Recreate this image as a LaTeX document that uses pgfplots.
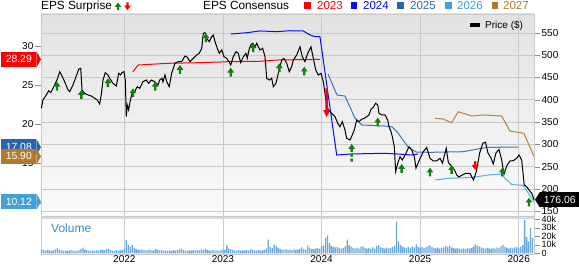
\documentclass[border=0pt]{standalone}
\usepackage{fontspec}
\setmainfont{Liberation Sans}
\usepackage{pgfplots}
\pgfplotsset{compat=1.18}

\definecolor{gridc}{RGB}{202,202,202}
\definecolor{tickc}{RGB}{140,140,140}
\definecolor{bgtop}{RGB}{226,226,226}
\definecolor{bgbot}{RGB}{251,251,251}
\definecolor{c2023}{RGB}{255,0,0}
\definecolor{c2024}{RGB}{10,10,245}
\definecolor{c2025}{RGB}{42,100,176}
\definecolor{c2026}{RGB}{64,160,216}
\definecolor{c2027}{RGB}{176,122,46}
\definecolor{l2025}{RGB}{58,120,192}
\definecolor{l2026}{RGB}{86,176,226}
\definecolor{l2027}{RGB}{184,130,58}
\definecolor{upgreen}{RGB}{16,128,16}
\definecolor{volc}{RGB}{104,166,222}
\definecolor{voltxt}{RGB}{60,140,205}

\newcommand\tickfont{\fontsize{10}{12}\selectfont}

% EPS surprise arrows; the tip sits at the plotted point
\pgfdeclareplotmark{epsup}{%
  \pgfpathmoveto{\pgfpoint{0pt}{0pt}}%
  \pgfpathlineto{\pgfpoint{3.4pt}{-4.8pt}}%
  \pgfpathlineto{\pgfpoint{1.2pt}{-4.8pt}}%
  \pgfpathlineto{\pgfpoint{1.2pt}{-8.8pt}}%
  \pgfpathlineto{\pgfpoint{-1.2pt}{-8.8pt}}%
  \pgfpathlineto{\pgfpoint{-1.2pt}{-4.8pt}}%
  \pgfpathlineto{\pgfpoint{-3.4pt}{-4.8pt}}%
  \pgfpathclose\pgfusepathqfill}
\pgfdeclareplotmark{epsuplong}{%
  \pgfpathmoveto{\pgfpoint{0pt}{0pt}}%
  \pgfpathlineto{\pgfpoint{3.4pt}{-4.8pt}}%
  \pgfpathlineto{\pgfpoint{-3.4pt}{-4.8pt}}%
  \pgfpathclose
  \pgfpathrectangle{\pgfpoint{-1.2pt}{-8pt}}{\pgfpoint{2.4pt}{3.2pt}}%
  \pgfpathrectangle{\pgfpoint{-1.2pt}{-12.6pt}}{\pgfpoint{2.4pt}{3pt}}%
  \pgfpathrectangle{\pgfpoint{-1.2pt}{-17.6pt}}{\pgfpoint{2.4pt}{3pt}}%
  \pgfusepathqfill}
\pgfdeclareplotmark{epsdown}{%
  \pgfpathmoveto{\pgfpoint{0pt}{0pt}}%
  \pgfpathlineto{\pgfpoint{3.4pt}{4.8pt}}%
  \pgfpathlineto{\pgfpoint{1.2pt}{4.8pt}}%
  \pgfpathlineto{\pgfpoint{1.2pt}{8.8pt}}%
  \pgfpathlineto{\pgfpoint{-1.2pt}{8.8pt}}%
  \pgfpathlineto{\pgfpoint{-1.2pt}{4.8pt}}%
  \pgfpathlineto{\pgfpoint{-3.4pt}{4.8pt}}%
  \pgfpathclose\pgfusepathqfill}
\pgfdeclareplotmark{epsdownlong}{%
  \pgfpathmoveto{\pgfpoint{0pt}{0pt}}%
  \pgfpathlineto{\pgfpoint{3.4pt}{7.2pt}}%
  \pgfpathlineto{\pgfpoint{1.2pt}{7.2pt}}%
  \pgfpathlineto{\pgfpoint{1.2pt}{29pt}}%
  \pgfpathlineto{\pgfpoint{-1.2pt}{29pt}}%
  \pgfpathlineto{\pgfpoint{-1.2pt}{7.2pt}}%
  \pgfpathlineto{\pgfpoint{-3.4pt}{7.2pt}}%
  \pgfpathclose\pgfusepathqfill}

\pgfplotsset{
  panel/.style={scale only axis, width=493pt, xmin=2021.155, xmax=2026.155,
    anchor=south west},
  pricebox/.style={panel, at={(41pt,47.5pt)}, height=202.5pt, ymin=138.3, ymax=592.6},
  epsbox/.style={panel, at={(41pt,47.5pt)}, height=202.5pt, ymin=8.226, ymax=34.087},
}
\tikzset{
  tag/.style={text=white, inner sep=0pt, minimum width=35pt, minimum height=15.5pt,
    font=\fontsize{10.4}{12}\selectfont},
}

\begin{document}
\begin{tikzpicture}
\path[use as bounding box] (0pt,0pt) rectangle (579pt,264pt);

% price panel: shaded background, grid, price scale on the right
\begin{axis}[pricebox,
  axis background/.style={top color=bgtop, bottom color=bgbot},
  axis line style={draw=gridc},
  xtick={2022,2023,2024,2025,2026}, xticklabels={}, xmajorgrids,
  xtick style={draw=none},
  ytick={150,200,...,550}, ymajorgrids,
  ytick pos=right, yticklabel pos=right,
  tick align=outside, major tick length=6pt,
  ytick style={draw=tickc},
  grid style={draw=gridc, line width=0.8pt},
  yticklabel style={font=\tickfont, /pgf/number format/assume math mode=true,
    inner sep=1.5pt},
]
\addplot[draw=none] coordinates {(2022,300)};
\end{axis}

% EPS consensus per fiscal year, EPS scale on the left
\begin{axis}[epsbox,
  axis x line=none, axis y line*=left, axis line style={draw=none},
  ytick={10,15,20,25,30},
  tick align=outside, major tick length=6pt,
  ytick style={draw=tickc},
  yticklabel style={font=\tickfont, /pgf/number format/assume math mode=true,
    inner sep=1.5pt},
]
\addplot[c2023, line width=1pt] coordinates {
(2022.088,26.72) (2022.139,27.57) (2022.443,27.79) (2022.767,27.87)
(2023.041,27.99) (2023.376,28.05) (2023.545,28.21) (2023.984,28.29)};
\addplot[c2024, line width=1pt] coordinates {
(2023.082,31.53) (2023.244,31.70) (2023.376,31.92) (2023.545,31.83)
(2023.680,31.95) (2023.815,31.92) (2023.883,31.41) (2023.934,31.19)
(2023.984,31.19) (2024.154,16.08) (2024.306,16.21) (2024.644,16.30)
(2024.762,16.21) (2024.915,16.08) (2024.981,16.21)};
\addplot[l2025, line width=1pt] coordinates {
(2024.066,26.42) (2024.157,23.74) (2024.238,23.61) (2024.339,20.80)
(2024.410,19.91) (2024.644,19.78) (2024.715,19.66) (2024.776,18.89)
(2024.877,17.10) (2024.958,16.46) (2025.100,16.42) (2025.435,16.50)
(2025.678,17.06) (2025.993,17.08)};
\addplot[l2026, line width=1pt] coordinates {
(2025.151,12.89) (2025.286,13.10) (2025.523,13.21) (2025.691,13.52)
(2025.827,13.65) (2025.861,13.10) (2025.929,12.31) (2026.046,12.19)
(2026.132,10.55) (2026.155,10.12)};
\addplot[l2027, line width=1pt] coordinates {
(2025.151,20.77) (2025.235,20.68) (2025.320,20.20) (2025.387,21.61)
(2025.523,21.06) (2025.641,21.19) (2025.827,21.06) (2025.911,19.14)
(2026.053,18.85) (2026.148,16.08) (2026.155,15.90)};
\end{axis}

% share price and EPS surprises
\begin{axis}[pricebox, hide axis, clip=false]
\addplot[black, line width=1pt] coordinates {
(2021.158,381.1) (2021.175,399.7) (2021.209,410.9) (2021.233,420.5)
(2021.253,416.1) (2021.277,425.9) (2021.300,437.1) (2021.320,446.1)
(2021.345,463.2) (2021.368,453.5) (2021.395,440.7) (2021.429,422.1)
(2021.446,418.3) (2021.479,433.3) (2021.513,453.5) (2021.537,468.5)
(2021.558,470.8) (2021.571,422.1) (2021.598,414.7) (2021.632,410.9)
(2021.665,408.7) (2021.699,403.5) (2021.726,399.7) (2021.750,390.7)
(2021.766,410.9) (2021.784,444.5) (2021.807,460.9) (2021.834,455.8)
(2021.862,444.5) (2021.885,437.1) (2021.919,431.1) (2021.943,459.6)
(2021.963,455.8) (2021.976,460.9) (2021.997,463.2) (2022.010,444.5)
(2022.020,362.2) (2022.030,388.5) (2022.044,377.2) (2022.058,395.9)
(2022.078,414.7) (2022.105,418.3) (2022.131,429.5) (2022.156,425.9)
(2022.189,440.7) (2022.223,444.5) (2022.247,437.1) (2022.274,444.5)
(2022.308,440.7) (2022.341,433.3) (2022.359,444.5) (2022.382,448.4)
(2022.392,440.1) (2022.412,455.8) (2022.430,440.7) (2022.456,429.5)
(2022.480,459.6) (2022.514,482.0) (2022.547,485.6) (2022.582,485.6)
(2022.615,498.4) (2022.639,495.5) (2022.666,485.6) (2022.699,493.2)
(2022.734,500.6) (2022.760,504.4) (2022.785,515.7) (2022.801,549.3)
(2022.818,550.6) (2022.835,538.1) (2022.862,530.5) (2022.886,541.7)
(2022.902,545.5) (2022.920,530.5) (2022.943,515.7) (2022.963,504.4)
(2022.988,511.8) (2023.011,496.8) (2023.038,493.2) (2023.062,485.6)
(2023.079,478.2) (2023.105,496.8) (2023.133,508.0) (2023.156,504.4)
(2023.180,483.4) (2023.207,496.8) (2023.234,504.4) (2023.247,493.2)
(2023.264,511.8) (2023.282,523.1) (2023.302,526.9) (2023.325,519.2)
(2023.343,526.9) (2023.359,519.2) (2023.376,511.8) (2023.403,515.7)
(2023.427,496.8) (2023.444,448.4) (2023.470,444.5) (2023.495,448.4)
(2023.511,429.5) (2023.538,437.1) (2023.562,459.6) (2023.596,489.4)
(2023.619,493.2) (2023.647,482.0) (2023.673,463.2) (2023.697,474.4)
(2023.714,489.4) (2023.748,500.6) (2023.782,519.2) (2023.805,496.8)
(2023.832,485.6) (2023.860,504.4) (2023.893,519.2) (2023.917,493.2)
(2023.941,467.0) (2023.967,455.8) (2023.995,459.6) (2024.018,440.7)
(2024.035,414.7) (2024.052,388.5) (2024.069,377.2) (2024.103,369.8)
(2024.137,362.2) (2024.164,347.4) (2024.187,339.8) (2024.211,351.0)
(2024.238,332.4) (2024.255,313.8) (2024.289,310.0) (2024.312,321.2)
(2024.332,332.4) (2024.357,354.8) (2024.380,351.0) (2024.407,356.4)
(2024.434,358.6) (2024.458,362.2) (2024.481,366.0) (2024.502,378.8)
(2024.525,383.3) (2024.549,392.3) (2024.570,388.5) (2024.583,369.8)
(2024.610,366.0) (2024.644,366.0) (2024.671,354.8) (2024.684,339.8)
(2024.705,328.6) (2024.718,317.4) (2024.738,294.9) (2024.752,238.8)
(2024.773,257.7) (2024.796,272.5) (2024.819,265.1) (2024.839,272.5)
(2024.864,283.7) (2024.887,294.9) (2024.915,287.5) (2024.941,272.5)
(2024.958,246.5) (2024.992,265.1) (2025.032,283.7) (2025.067,293.1)
(2025.100,268.9) (2025.134,262.8) (2025.166,262.8) (2025.202,268.9)
(2025.227,257.7) (2025.265,291.3) (2025.286,259.5) (2025.318,251.6)
(2025.349,242.7) (2025.371,231.4) (2025.394,227.0) (2025.428,231.4)
(2025.462,235.2) (2025.506,235.2) (2025.541,220.2) (2025.572,240.4)
(2025.604,280.8) (2025.636,302.5) (2025.663,305.0) (2025.688,280.8)
(2025.719,269.6) (2025.742,256.1) (2025.769,280.8) (2025.800,288.6)
(2025.827,265.1) (2025.851,233.7) (2025.878,251.6) (2025.911,262.8)
(2025.945,263.5) (2025.979,268.9) (2026.003,276.3) (2026.030,265.1)
(2026.056,209.0) (2026.081,205.2) (2026.104,197.8) (2026.132,190.4)
(2026.155,176.06)};
\addplot[only marks, mark=epsup, upgreen] coordinates {
(2021.317,440.7) (2021.564,422.1) (2021.834,448.4) (2022.088,425.9)
(2022.314,440.7) (2022.565,478.2) (2022.828,549.3) (2023.079,472.1)
(2023.308,526.9) (2023.572,482.0) (2023.825,474.4) (2024.570,360.0)
(2024.813,256.1) (2025.100,247.8) (2025.320,253.9) (2025.833,247.8)
(2026.104,180.5)};
\addplot[only marks, mark=epsuplong, upgreen] coordinates {(2024.306,301.0)};
\addplot[only marks, mark=epsdownlong, c2023] coordinates {(2024.052,360.9)};
\addplot[only marks, mark=epsdown, c2023] coordinates {(2025.559,242.7)};
% last price
\node[tag, fill=black, anchor=west, minimum width=39pt, xshift=6pt] (tp)
  at (axis cs:2026.155,176.06) {176.06};
\fill[black] (tp.north west) -- ([xshift=-5pt]tp.west) -- (tp.south west) -- cycle;
\end{axis}

% weekly volume, thousands of shares
\pgfplotstableread{
t v
2021.16 4.2
2021.18 3.6
2021.20 3.1
2021.22 4.0
2021.24 3.4
2021.26 2.8
2021.28 3.3
2021.30 4.6
2021.32 5.8
2021.34 4.1
2021.36 3.5
2021.38 3.0
2021.40 2.7
2021.42 3.2
2021.44 2.9
2021.46 3.6
2021.48 3.1
2021.50 2.6
2021.52 3.0
2021.54 3.4
2021.56 5.2
2021.58 6.5
2021.60 4.4
2021.62 3.7
2021.64 3.1
2021.66 2.8
2021.68 3.3
2021.70 2.9
2021.72 3.5
2021.74 3.2
2021.76 3.9
2021.78 4.3
2021.80 3.4
2021.82 4.9
2021.84 5.6
2021.86 3.8
2021.88 3.2
2021.90 2.9
2021.92 3.6
2021.94 3.1
2021.96 3.4
2021.98 4.0
2022.00 5.5
2022.02 15.5
2022.04 10.0
2022.06 7.5
2022.08 9.7
2022.10 6.0
2022.12 4.8
2022.14 4.2
2022.16 3.8
2022.18 4.5
2022.20 3.6
2022.22 3.3
2022.24 3.9
2022.26 4.4
2022.28 3.5
2022.30 3.2
2022.32 5.0
2022.34 4.1
2022.36 3.4
2022.38 3.7
2022.40 3.0
2022.42 3.4
2022.44 2.9
2022.46 3.3
2022.48 2.8
2022.50 3.6
2022.52 3.1
2022.54 3.8
2022.56 4.6
2022.58 5.4
2022.60 3.9
2022.62 3.2
2022.64 2.9
2022.66 3.4
2022.68 3.0
2022.70 3.6
2022.72 3.3
2022.74 3.9
2022.76 3.4
2022.78 4.2
2022.80 3.8
2022.82 5.6
2022.84 4.4
2022.86 3.5
2022.88 3.2
2022.90 3.7
2022.92 3.0
2022.94 3.4
2022.96 2.9
2022.98 3.6
2023.00 4.4
2023.02 3.9
2023.04 9.0
2023.06 5.6
2023.08 4.8
2023.10 4.0
2023.12 3.5
2023.14 3.2
2023.16 3.7
2023.18 3.1
2023.20 3.4
2023.22 3.0
2023.24 3.6
2023.26 3.2
2023.28 4.6
2023.30 4.0
2023.32 3.5
2023.34 3.1
2023.36 3.6
2023.38 3.2
2023.40 3.4
2023.42 3.9
2023.44 5.5
2023.46 16.0
2023.48 7.5
2023.50 6.0
2023.52 10.0
2023.54 8.8
2023.56 6.2
2023.58 5.0
2023.60 4.4
2023.62 3.9
2023.64 4.8
2023.66 3.6
2023.68 4.2
2023.70 3.7
2023.72 4.5
2023.74 3.9
2023.76 4.3
2023.78 5.2
2023.80 6.8
2023.82 5.0
2023.84 4.4
2023.86 9.0
2023.88 6.5
2023.90 5.2
2023.92 4.8
2023.94 5.6
2023.96 6.0
2023.98 5.4
2024.00 8.5
2024.02 9.0
2024.04 18.0
2024.06 21.0
2024.08 12.0
2024.10 9.0
2024.12 7.5
2024.14 6.8
2024.16 7.2
2024.18 6.0
2024.20 5.6
2024.22 6.4
2024.24 8.5
2024.26 16.0
2024.28 9.5
2024.30 7.8
2024.32 6.4
2024.34 5.8
2024.36 6.6
2024.38 5.5
2024.40 7.5
2024.42 8.0
2024.44 6.2
2024.46 5.4
2024.48 6.0
2024.50 5.2
2024.52 6.9
2024.54 5.5
2024.56 8.5
2024.58 9.5
2024.60 7.0
2024.62 6.0
2024.64 5.4
2024.66 6.6
2024.68 5.8
2024.70 6.4
2024.72 7.2
2024.74 9.0
2024.76 37.0
2024.78 14.0
2024.80 10.0
2024.82 8.2
2024.84 7.0
2024.86 6.4
2024.88 7.6
2024.90 6.2
2024.92 8.0
2024.94 7.0
2024.96 10.5
2024.98 7.5
2025.00 6.5
2025.02 7.2
2025.04 6.0
2025.06 6.8
2025.08 8.5
2025.10 9.8
2025.12 7.2
2025.14 6.4
2025.16 5.8
2025.18 6.6
2025.20 5.5
2025.22 6.2
2025.24 7.0
2025.26 8.6
2025.28 7.4
2025.30 9.0
2025.32 6.8
2025.34 6.0
2025.36 5.4
2025.38 6.2
2025.40 5.6
2025.42 5.0
2025.44 5.8
2025.46 5.2
2025.48 6.0
2025.50 5.4
2025.52 6.4
2025.54 7.8
2025.56 10.5
2025.58 9.0
2025.60 8.0
2025.62 7.0
2025.64 6.2
2025.66 5.6
2025.68 6.4
2025.70 5.8
2025.72 5.2
2025.74 6.0
2025.76 5.4
2025.78 6.6
2025.80 5.8
2025.82 8.0
2025.84 9.5
2025.86 7.4
2025.88 6.2
2025.90 5.6
2025.92 6.4
2025.94 5.8
2025.96 6.8
2025.98 7.0
2026.00 6.4
2026.02 7.8
2026.04 9.5
2026.06 39.0
2026.08 19.0
2026.10 14.0
2026.12 30.0
2026.14 18.0
}\voltable

% volume panel
\begin{axis}[panel, at={(41pt,10pt)}, height=37pt, ymin=-0.8, ymax=42.4,
  axis background/.style={fill=white},
  axis line style={draw=gridc},
  xtick={2022,2023,2024,2025,2026},
  xticklabels={2022,2023,2024,2025,2026},
  xmajorgrids, xtick style={draw=none},
  grid style={draw=gridc, line width=0.8pt},
  xticklabel style={font=\tickfont, inner sep=0pt, anchor=north, yshift=4.5pt},
  ytick={0,10,20,30,40}, yticklabels={0,10k,20k,30k,40k},
  ytick pos=right, yticklabel pos=right,
  tick align=outside, major tick length=6pt, ytick style={draw=tickc},
  yticklabel style={font=\fontsize{9}{10}\selectfont, inner sep=1.5pt},
]
\addplot[ybar, bar width=1.3pt, bar shift=0pt, fill=volc, draw=none] table[x=t, y=v] {\voltable};
\end{axis}

% consensus value tags on the EPS scale
\begin{axis}[epsbox, hide axis, clip=false]
\addplot[draw=none] coordinates {(2022,20)};
\node[tag, fill=c2023, anchor=east, xshift=-4.5pt] (a) at (axis cs:2021.155,28.29) {28.29};
\fill[c2023] (a.north east) -- ([xshift=4.5pt]a.east) -- (a.south east) -- cycle;
\node[tag, fill=c2025, anchor=east, xshift=-4.5pt] (b) at (axis cs:2021.155,17.08) {17.08};
\fill[c2025] (b.north east) -- ([xshift=4.5pt]b.east) -- (b.south east) -- cycle;
\node[tag, fill=c2027, anchor=east, xshift=-4.5pt] (c) at (axis cs:2021.155,15.90) {15.90};
\fill[c2027] (c.north east) -- ([xshift=4.5pt]c.east) -- (c.south east) -- cycle;
\node[tag, fill=c2026, anchor=east, xshift=-4.5pt] (d) at (axis cs:2021.155,10.12) {10.12};
\fill[c2026] (d.north east) -- ([xshift=4.5pt]d.east) -- (d.south east) -- cycle;
\end{axis}

% band between the two panels
\fill[gridc!70] (41pt,45.3pt) rectangle (534pt,47.3pt);

% legends
\node[anchor=base west, inner sep=0pt, font=\fontsize{11.8}{14}\selectfont]
  at (41pt,254.2pt) {EPS Surprise};
\fill[upgreen] (118pt,261.5pt) -- (121.3pt,257pt) -- (119.1pt,257pt) -- (119.1pt,253.8pt)
  -- (116.9pt,253.8pt) -- (116.9pt,257pt) -- (114.7pt,257pt) -- cycle;
\fill[c2023] (127.5pt,253.8pt) -- (130.8pt,258.3pt) -- (128.6pt,258.3pt) -- (128.6pt,261.5pt)
  -- (126.4pt,261.5pt) -- (126.4pt,258.3pt) -- (124.2pt,258.3pt) -- cycle;
\node[anchor=base west, inner sep=0pt, font=\fontsize{11.8}{14}\selectfont]
  at (203pt,254.8pt) {EPS Consensus};
\foreach \sx/\tx/\col/\yr in {304/317/c2023/2023, 350.7/363/c2024/2024,
    397/410/c2025/2025, 445/457/c2026/2026, 491.7/503/c2027/2027}{
  \fill[\col] (\sx pt,255.3pt) rectangle ++(6.7pt,6.7pt);
  \node[anchor=base west, inner sep=0pt, text=\col, font=\fontsize{11.5}{14}\selectfont]
    at (\tx pt,254.8pt) {\yr};
}
\fill[black] (470pt,236.6pt) rectangle (480pt,241.3pt);
\node[anchor=west, inner sep=0pt, font=\fontsize{10}{12}\selectfont]
  at (485pt,238.4pt) {Price (\$)};
\node[anchor=west, inner sep=0pt, text=voltxt, font=\fontsize{12}{14}\selectfont]
  at (51pt,35.5pt) {Volume};
\end{tikzpicture}
\end{document}
